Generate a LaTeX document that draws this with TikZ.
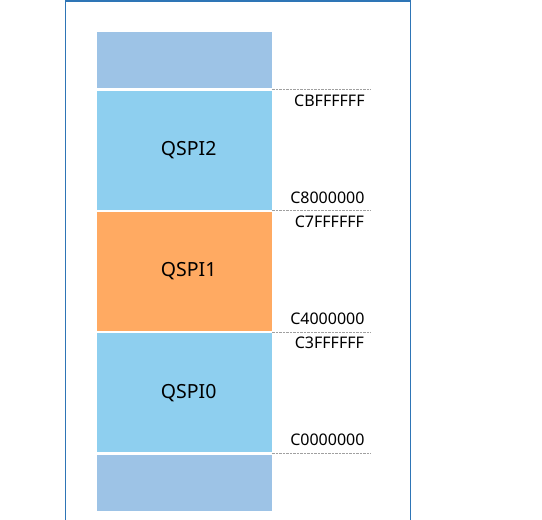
\documentclass[tikz,border=0pt]{standalone}
\usepackage{fontspec}
\setmainfont{Noto Sans}
\usetikzlibrary{positioning}
\definecolor{outerblue}{HTML}{9DC3E6}
\definecolor{qspiblue}{HTML}{8ECFEF}
\definecolor{qspiorange}{HTML}{FFAA62}
\definecolor{frameblue}{HTML}{2E75B6}
\definecolor{dashgray}{HTML}{A0A0A0}
\tikzset{region/.style = {fill=qspiblue, inner sep=0pt, minimum height=119pt, minimum width=175pt},
         spare/.style = {fill=outerblue, inner sep=0pt, minimum height=56.5pt, minimum width=175pt},
         qname/.style = {xshift=4pt, font=\fontsize{19.5}{22}\selectfont},
         addr/.style = {anchor=base, inner sep=0pt, font=\fontsize{16}{18}\selectfont},
         bound/.style = {draw=dashgray, line width=0.9pt, dash pattern=on 2.2pt off 1.3pt}}

\begin{document}
\begin{tikzpicture}[x=1pt,y=-1pt]
        \useasboundingbox (0,0) rectangle (542,520);
        \draw[frameblue, line width=1.3pt](65.7,525)--(65.7,1)--(410.3,1)--(410.3,525);

        \node[spare, anchor=north west](top)at(97,31.5){};
        \node[region, below=2pt of top, label={[qname]center:QSPI2}](q2){};
        \node[region, fill=qspiorange, below=2pt of q2, label={[qname]center:QSPI1}](q1){};
        \node[region, below=2pt of q1, label={[qname]center:QSPI0}](q0){};
        \node[spare, below=2pt of q0](bottom){};

        % address boundaries
        \coordinate (b3) at ([yshift=-1pt]top.south east);
        \coordinate (b2) at ([yshift=-1pt]q2.south east);
        \coordinate (b1) at ([yshift=-1pt]q1.south east);
        \coordinate (b0) at ([yshift=-1pt]q0.south east);
        \draw[bound](b3)--++(99,0);
        \draw[bound](b2)--++(99,0);
        \draw[bound](b1)--++(99,0);
        \draw[bound](b0)--++(99,0);

        \node[addr](a3)at([xshift=57pt,yshift=-16.7pt]b3){CBFFFFFF};
        \node[addr](a2)at([xshift=55pt,yshift=7.8pt]b2){C8000000};
        \node[addr](a2t)at([xshift=57pt,yshift=-16.7pt]b2){C7FFFFFF};
        \node[addr](a1)at([xshift=55pt,yshift=7.8pt]b1){C4000000};
        \node[addr](a1t)at([xshift=57pt,yshift=-16.7pt]b1){C3FFFFFF};
        \node[addr](a0)at([xshift=55pt,yshift=7.8pt]b0){C0000000};
    \end{tikzpicture}
\end{document}
